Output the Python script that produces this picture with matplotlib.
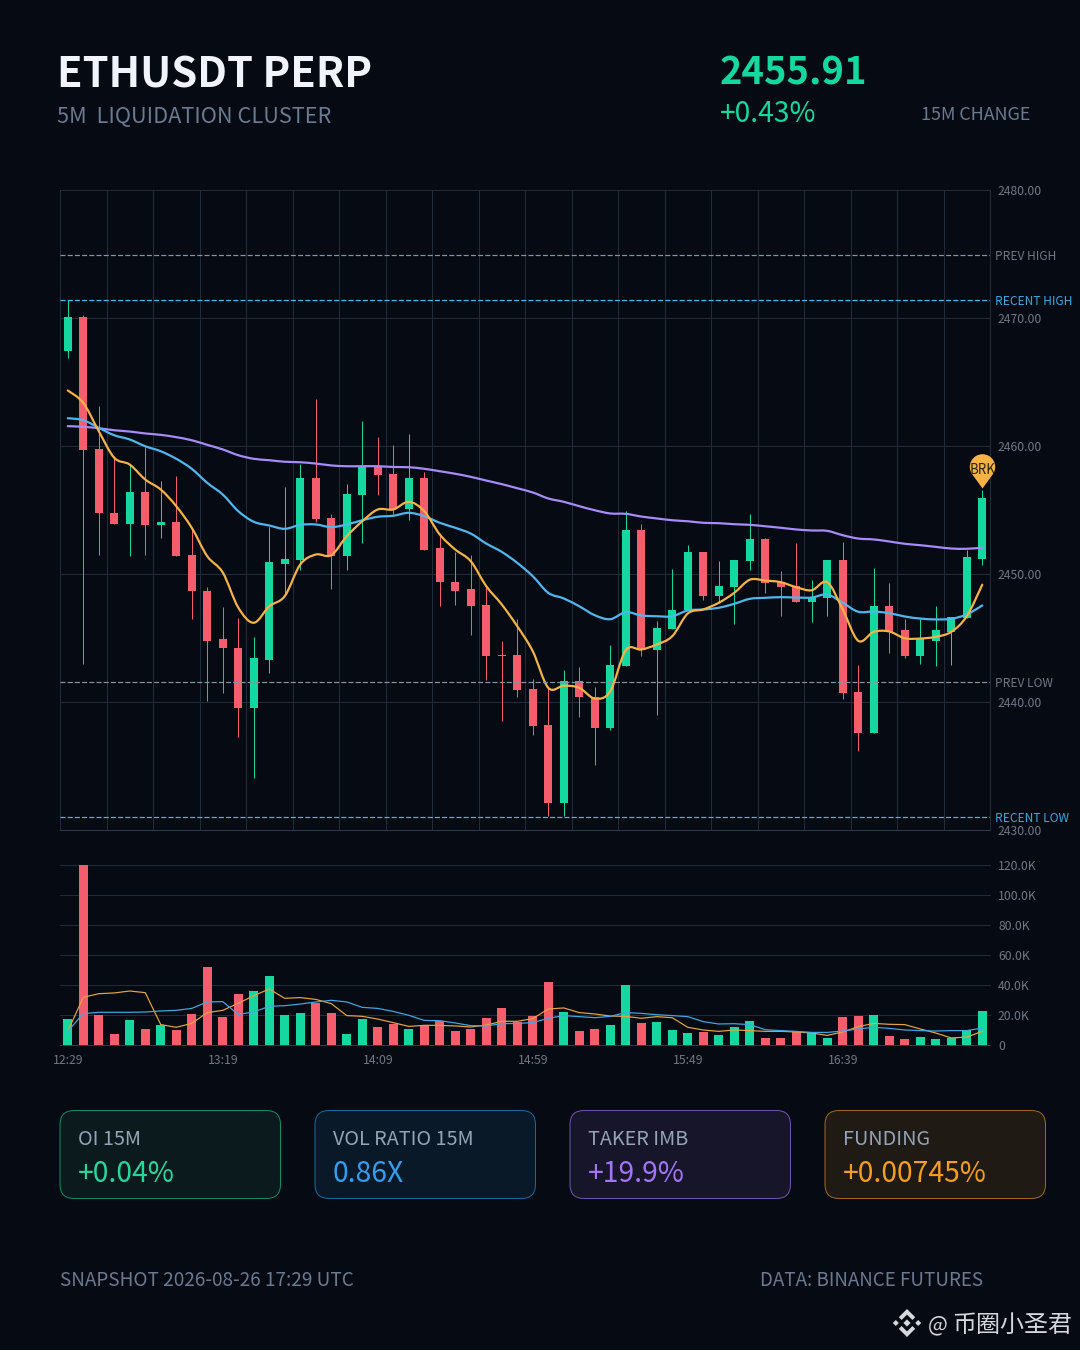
import numpy as np
import matplotlib
matplotlib.use("Agg")
import matplotlib.pyplot as plt
from matplotlib.path import Path
from matplotlib.patches import PathPatch, FancyBboxPatch, Polygon

plt.rcParams['font.family'] = ['Noto Sans CJK SC', 'DejaVu Sans']

opens = [2467.4,2470.1,2459.8,2454.8,2453.9,2456.4,2453.8,2454.1,2451.5,2448.7,
         2444.9,2444.25,2439.55,2443.3,2450.8,2451.1,2457.5,2454.4,2451.4,2456.2,
         2458.4,2457.8,2455.05,2457.5,2452.0,2449.4,2448.8,2447.55,2443.7,2443.65,
         2441.0,2438.2,2432.1,2441.65,2440.4,2438.0,2442.85,2453.4,2444.1,2445.7,
         2447.15,2451.75,2448.3,2449.0,2451.0,2452.7,2449.35,2449.1,2447.8,2448.1,
         2451.1,2440.8,2437.6,2447.5,2445.6,2443.6,2444.8,2445.5,2446.6,2451.2]
closes = [2470.1,2459.7,2454.75,2453.9,2456.4,2453.8,2454.1,2451.4,2448.7,2444.8,
          2444.2,2439.55,2443.4,2450.95,2451.2,2457.5,2454.3,2451.4,2456.25,2458.4,
          2457.75,2455.05,2457.5,2451.9,2449.35,2448.7,2447.5,2443.6,2443.6,2440.9,
          2438.1,2432.1,2441.65,2440.4,2438.0,2442.9,2453.4,2444.1,2445.8,2447.2,
          2451.75,2448.25,2449.05,2451.1,2452.7,2449.3,2449.0,2447.8,2448.15,2451.1,
          2440.7,2437.6,2447.5,2445.5,2443.6,2444.9,2445.6,2446.65,2451.3,2455.91]
highs = [2471.4,2470.2,2463.1,2459.2,2458.55,2459.9,2457.3,2457.65,2453.6,2449.0,
         2447.4,2446.6,2445.1,2453.7,2456.8,2458.6,2463.7,2454.65,2457.05,2461.95,
         2460.7,2460.1,2460.95,2458.0,2453.0,2451.7,2451.5,2449.05,2444.8,2446.45,
         2441.8,2441.1,2442.5,2442.75,2441.2,2444.45,2454.9,2453.9,2446.3,2450.4,
         2452.3,2451.75,2451.05,2451.1,2454.7,2452.8,2450.2,2452.45,2449.5,2451.1,
         2452.5,2442.9,2450.5,2449.3,2446.45,2446.5,2447.5,2446.65,2451.9,2456.6]
lows = [2466.84,2443.0,2451.5,2453.9,2451.4,2451.5,2452.8,2451.4,2446.5,2440.1,
        2440.7,2437.25,2434.1,2442.3,2448.4,2450.3,2454.1,2448.8,2450.3,2452.45,
        2456.15,2454.65,2454.2,2451.9,2447.5,2447.6,2445.2,2441.7,2438.5,2440.4,
        2437.4,2431.1,2431.1,2438.8,2435.1,2437.85,2442.85,2443.6,2439.0,2445.7,
        2447.15,2448.0,2447.75,2446.1,2450.3,2448.5,2446.7,2447.8,2446.25,2446.7,
        2440.2,2436.2,2437.6,2443.8,2443.4,2443.0,2442.8,2442.9,2446.6,2450.7]

ma_fast = [2464.34,2463.37,2461.16,2459.08,2458.55,2457.38,2456.6,2455.3,2453.61,2451.39,
           2450.12,2447.38,2446.19,2447.48,2448.27,2450.74,2451.52,2451.47,2452.95,2454.12,
           2455.04,2455.04,2455.64,2454.91,2453.09,2451.91,2451.0,2449.05,2447.62,2445.92,
           2443.97,2441.11,2441.27,2441.11,2440.27,2440.84,2444.05,2444.1,2444.49,2445.14,
           2446.91,2447.23,2447.75,2448.53,2449.55,2449.49,2449.36,2448.97,2448.73,2449.36,
           2447.23,2444.78,2445.48,2445.51,2444.98,2444.96,2445.09,2445.48,2446.7,2449.16]
ma_mid = [2462.17,2462.02,2461.42,2460.84,2460.51,2459.98,2459.59,2459.0,2458.22,2457.12,
          2456.21,2454.91,2454.08,2453.79,2453.53,2453.84,2453.87,2453.66,2453.87,2454.2,
          2454.47,2454.55,2454.78,2454.52,2454.0,2453.61,2453.16,2452.38,2451.73,2450.87,
          2449.83,2448.53,2448.09,2447.48,2446.78,2446.47,2447.02,2446.76,2446.7,2446.7,
          2447.15,2447.23,2447.36,2447.67,2448.06,2448.14,2448.19,2448.16,2448.16,2448.4,
          2447.75,2447.05,2447.07,2446.94,2446.68,2446.52,2446.45,2446.5,2446.84,2447.54]
ma_slow = [2461.55,2461.5,2461.39,2461.23,2461.13,2460.98,2460.87,2460.69,2460.45,2460.09,
           2459.73,2459.28,2459.0,2458.89,2458.77,2458.73,2458.63,2458.48,2458.42,2458.42,
           2458.42,2458.36,2458.34,2458.22,2458.03,2457.83,2457.59,2457.3,2457.02,2456.7,
           2456.37,2455.9,2455.64,2455.3,2454.98,2454.73,2454.7,2454.49,2454.34,2454.2,
           2454.12,2454.0,2453.97,2453.89,2453.84,2453.73,2453.61,2453.48,2453.4,2453.37,
           2453.03,2452.77,2452.7,2452.54,2452.36,2452.25,2452.12,2451.99,2451.97,2452.05]

volumes = [17.3,125.0,19.8,7.6,16.7,10.7,13.3,10.2,20.9,52.2,
           18.7,34.2,36.2,46.2,19.8,21.3,28.0,21.3,7.3,17.6,
           12.2,14.2,10.4,13.6,16.2,9.6,10.7,18.2,24.7,15.1,
           19.6,42.0,22.2,9.6,10.4,13.6,40.2,14.7,15.6,10.2,
           8.2,8.9,6.7,12.0,16.0,4.7,4.9,9.3,8.7,4.7,
           18.9,19.6,20.2,6.0,4.0,5.3,4.0,4.4,10.2,22.9]
vol_ma_fast = [9.1,31.8,34.2,34.7,36.0,34.9,13.6,11.8,14.4,21.6,
               23.1,27.8,32.9,37.3,31.1,31.6,30.4,27.6,19.6,19.1,
               17.3,14.9,12.4,13.1,13.1,12.7,12.0,13.3,15.8,15.8,
               17.6,24.0,24.7,21.6,20.7,19.3,19.1,17.8,18.9,18.2,
               11.8,10.0,9.1,10.0,9.6,9.1,9.1,8.7,8.0,6.4,
               8.7,12.2,14.4,13.8,13.6,10.7,8.0,4.7,5.3,9.1]
vol_ma_slow = [9.1,20.9,21.8,21.8,21.8,22.0,22.7,23.1,24.4,28.7,
               28.9,20.4,22.0,25.8,26.2,27.3,28.7,29.8,28.7,25.1,
               24.4,22.4,19.8,16.4,16.2,14.7,12.9,12.7,14.2,14.4,
               14.9,17.8,19.6,18.9,18.2,19.1,21.6,21.1,20.2,19.6,
               18.9,15.6,14.0,14.2,13.6,10.2,9.6,9.1,8.4,8.4,
               9.3,10.7,11.8,11.1,10.0,9.6,9.3,9.6,9.6,11.3]

time_labels = ['12:29','13:19','14:09','14:59','15:49','16:39']
price_ticks = [2430,2440,2450,2460,2470,2480]
vol_ticks = [0,20,40,60,80,100,120]
level_names = ['PREV HIGH','RECENT HIGH','PREV LOW','RECENT LOW']
level_values = [2474.9,2471.4,2441.56,2431.0]
title = 'ETHUSDT PERP'
subtitle = '5M  LIQUIDATION CLUSTER'
last_price = '2455.91'
change = '+0.43%'
change_label = '15M CHANGE'
card_labels = ['OI 15M','VOL RATIO 15M','TAKER IMB','FUNDING']
card_values = ['+0.04%','0.86X','+19.9%','+0.00745%']

BG='#060b13'; GRID='#212c3b'; AXIS='#2f3a4d'; TICK='#6f7785'; MUTED='#6a7a91'
GREEN='#14d8a0'; RED='#f65d6c'; ORANGE='#f6b342'; BLUE='#4db8f0'; PURPLE='#a78bfa'
W,H=1080,1350
px=0.72

def rect(l,t,r,b):
    return [l/W,1-b/H,(r-l)/W,(b-t)/H]

fig=plt.figure(figsize=(10.8,13.5),dpi=100,facecolor=BG)
ov=fig.add_axes([0,0,1,1],zorder=0)
ov.set_xlim(0,W); ov.set_ylim(H,0); ov.axis('off')

def label(x,y,s,size,color,ha='left',weight='normal',**kw):
    ov.text(x,y,s,fontsize=size*px,color=color,ha=ha,va='center_baseline',fontweight=weight,**kw)

label(57,71,title,41.7,'#f1f5fb',weight='bold')
label(57,114.5,subtitle,21.75,MUTED)
label(720,69,last_price,38.1,GREEN,weight='bold')
label(720,110.5,change,28.2,GREEN)
label(1030,113.5,change_label,17.9,MUTED,ha='right')
label(60,1278,'SNAPSHOT 2026-08-26 17:29 UTC',18.95,MUTED)
label(983,1278,'DATA: BINANCE FUTURES',18.8,MUTED,ha='right')

card_x=[60,315,570,825]
card_fill=['#0b1b1d','#0a1927','#17152a','#1f1a14']
card_edge=['#128a62','#1c689e','#6f52b0','#a0681c']
card_val=['#27d79a','#2f9ff0','#a374f5','#f59e1b']
for x,s,v,f,e,c in zip(card_x,card_labels,card_values,card_fill,card_edge,card_val):
    ov.add_patch(FancyBboxPatch((x+14,1110.5+14),220.5-28,88-28,
                 boxstyle='round,pad=14,rounding_size=14',fc=f,ec=e,lw=1*px))
    label(x+18,1137,s,19.8,'#94a3b8')
    label(x+18,1170,v,28.3,c)

# watermark
cx,cy=907,1323
def diamond(x,y,r):
    return [(x,y-r),(x+r,y),(x,y+r),(x-r,y)]
wm='#d5d8dc'
for d in [diamond(cx,cy,3.6),diamond(cx-11.2,cy,3.0),diamond(cx+11.2,cy,3.0)]:
    ov.add_patch(Polygon(d,fc=wm,ec='none'))
for sign in (-1,1):
    ov.add_patch(Polygon([(cx,cy+sign*14),(cx+8.2,cy+sign*5.8),(cx+5.4,cy+sign*3.0),
                          (cx,cy+sign*8.4),(cx-5.4,cy+sign*3.0),(cx-8.2,cy+sign*5.8)],fc=wm,ec='none'))
label(928,1323,'@',21,wm)
label(952.5,1323,'币圈小圣君',24,wm)

x=np.arange(60)
o=np.array(opens);c=np.array(closes);hi=np.array(highs);lo=np.array(lows)
colors=[GREEN if b>=a else RED for a,b in zip(o,c)]

def style(ax):
    ax.set_facecolor('none')
    ax.set_xlim(-0.5,59.5)
    for s in ax.spines.values(): s.set_visible(False)
    ax.yaxis.tick_right()
    ax.tick_params(axis='both',length=0,labelcolor=TICK,labelsize=12.2*px)
    ax.tick_params(axis='y',pad=8*px)

ax=fig.add_axes(rect(60,190,990,830),zorder=2)
style(ax)
ax.set_ylim(2430,2480)
ax.set_yticks(price_ticks)
ax.set_yticklabels([f'{t:.2f}' for t in price_ticks])
ax.set_xticks(np.arange(-0.5,60,3))
ax.tick_params(axis='x',labelbottom=False)
ax.grid(True,color=GRID,lw=1*px)
ax.set_axisbelow(True)
for g in ax.get_xgridlines()+ax.get_ygridlines(): g.set_clip_on(False)
ax.spines['bottom'].set_visible(True); ax.spines['bottom'].set_color(AXIS); ax.spines['bottom'].set_linewidth(1*px)

ax.vlines(x,lo,hi,colors=colors,lw=1*px,zorder=3)
ax.bar(x,np.maximum(np.abs(c-o),0.08),bottom=np.minimum(o,c),width=8/15.5,color=colors,zorder=4,lw=0)

def smooth(ax,xs,ys,color,lw,z):
    xs=np.asarray(xs,float);ys=np.asarray(ys,float)
    pts=np.column_stack([xs,ys])
    verts=[pts[0]];codes=[Path.MOVETO]
    for i in range(len(pts)-1):
        p0=pts[max(i-1,0)];p1=pts[i];p2=pts[i+1];p3=pts[min(i+2,len(pts)-1)]
        verts+= [p1+(p2-p0)/6,p2-(p3-p1)/6,p2]
        codes+= [Path.CURVE4]*3
    ax.add_patch(PathPatch(Path(verts,codes),fc='none',ec=color,lw=lw,zorder=z,capstyle='round',joinstyle='round'))

smooth(ax,x,ma_slow,PURPLE,2.2*px,5)
smooth(ax,x,ma_mid,BLUE,2.2*px,6)
smooth(ax,x,ma_fast,ORANGE,2.2*px,7)

level_colors=['#8494a8','#38bdf8','#8494a8','#38bdf8']
label_colors=['#6f7785','#38a9e0','#6f7785','#38a9e0']
for n,v,lc,tc in zip(level_names,level_values,level_colors,label_colors):
    ax.axhline(v,color=lc,lw=1.2*px,ls=(0,(4.2,1.8)),zorder=8)
    ax.annotate(n,xy=(1,v),xycoords=ax.get_yaxis_transform(),xytext=(5*px,-1.2*px),textcoords='offset points',
                fontsize=12*px,color=tc,va='center',ha='left',annotation_clip=False)

arc=Path.arc(-32,212)
R=12.7;Dy=21.6
verts=np.vstack([arc.vertices*R+[0,Dy],[[0,0],[0,0]]])
codes=list(arc.codes)+[Path.LINETO,Path.CLOSEPOLY]
pin=Path(verts,codes)
ax.plot([59],[highs[59]+0.15],marker=pin,ms=2*(R+Dy)*px,color=ORANGE,mec='none',clip_on=False,zorder=9,ls='none')
ax.annotate('BRK',xy=(59,highs[59]+0.15),xytext=(0,18*px),textcoords='offset points',fontsize=13.3*px,
            color='#2a2010',ha='center',va='center',zorder=10,annotation_clip=False)

axv=fig.add_axes(rect(60,865,990,1045),zorder=2)
style(axv)
axv.set_ylim(0,120)
axv.set_yticks(vol_ticks)
axv.set_yticklabels(['0']+[f'{t:.1f}K' for t in vol_ticks[1:]])
axv.set_xticks(np.arange(0,60,10))
axv.set_xticklabels(time_labels)
axv.tick_params(axis='x',pad=8.5*px)
axv.grid(True,axis='y',color=GRID,lw=1*px)
axv.set_axisbelow(True)
for g in axv.get_ygridlines(): g.set_clip_on(False)
axv.spines['bottom'].set_visible(True); axv.spines['bottom'].set_color(AXIS); axv.spines['bottom'].set_linewidth(1*px)
axv.bar(x,volumes,width=8.7/15.5,color=colors,lw=0,zorder=3)
axv.plot(x,vol_ma_fast,color='#e8a43c',lw=1.2*px,zorder=4)
axv.plot(x,vol_ma_slow,color='#3ea9e6',lw=1.2*px,zorder=5)

fig.savefig('out.png',dpi=100,facecolor=BG)
